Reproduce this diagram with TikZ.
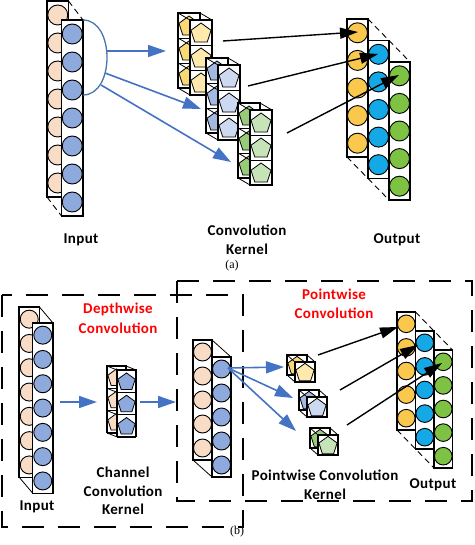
\documentclass[tikz,border=0pt]{standalone}
\usepackage{fontspec}
\setmainfont{Carlito}
\newfontfamily\lblfont[LetterSpace=2.5]{Carlito}
\newfontfamily\capfont{Liberation Serif}
\usetikzlibrary{arrows.meta}
\definecolor{peach}{HTML}{F9DCC6}
\definecolor{inblue}{HTML}{8EA9DB}
\definecolor{yfront}{HTML}{FFE9AD}
\definecolor{yback}{HTML}{F8D978}
\definecolor{bfront}{HTML}{CCD9F1}
\definecolor{bback}{HTML}{A4B9E2}
\definecolor{gfront}{HTML}{C7E3B8}
\definecolor{gback}{HTML}{97CB7A}
\definecolor{oyellow}{HTML}{FAC84C}
\definecolor{oblue}{HTML}{14A9E6}
\definecolor{ogreen}{HTML}{7DC242}
\definecolor{arrowblue}{HTML}{4472C4}
\definecolor{arcblue}{HTML}{4A76A8}
\tikzset{
  colbox/.style={draw=black, line width=1.1pt, fill=white},
  circ/.style={draw=black, line width=0.9pt},
  pentline/.style={draw=black, line width=0.8pt},
  edge/.style={draw=black, line width=0.8pt},
  diag/.style={draw=black, line width=0.9pt, dash pattern=on 6pt off 4pt},
  barrow/.style={draw=arrowblue, line width=1.6pt, -{Triangle[length=18pt,width=12pt]}},
  karrow/.style={draw=black, line width=1.4pt, -{Triangle[length=18pt,width=11pt]}},
  lbl/.style={font=\lblfont\bfseries\fontsize{15}{17}\selectfont, align=center, inner sep=0pt},
  redlbl/.style={lbl, text=red},
  captxt/.style={font=\capfont\fontsize{12}{14}\selectfont, inner sep=0pt},
  boxdash/.style={draw=black, line width=2pt, dash pattern=on 22pt off 14pt},
}
% column of circles: x, y, width, n, cell height, colour, radius
\newcommand\CircCol[7]{%
  \draw[colbox] (#1,#2) rectangle ({#1+#3},{#2+#4*#5});
  \foreach \ii in {1,...,#4}{\draw[circ, fill=#6] ({#1+#3/2},{#2+(\ii-0.5)*#5}) circle[radius=#7];}
}
% pentagon: x, y, R, colour
\newcommand\Pent[4]{%
  \draw[pentline, fill=#4, shift={({#1},{#2+0.1*#3})}] (270:#3) -- (342:#3) -- (54:#3) -- (126:#3) -- (198:#3) -- cycle;
}
% kernel prism: fx, fy, w, cell h, dx, dy, front colour, back colour, n
\newcommand\Kernel[9]{%
  \pgfmathsetmacro\kbx{#1-#5}\pgfmathsetmacro\kby{#2-#6}\pgfmathsetmacro\kpr{0.48*#3}%
  \draw[colbox] (\kbx,\kby) rectangle ({\kbx+#3},{\kby+#9*#4});
  \foreach \ii in {1,...,#9}{\Pent{\kbx+#3/2}{\kby+(\ii-0.5)*#4}{\kpr}{#8}}
  \foreach \ii in {0,...,#9}{%
    \draw[edge] (\kbx,{\kby+\ii*#4}) -- ({\kbx+#3},{\kby+\ii*#4});
    \draw[edge] (\kbx,{\kby+\ii*#4}) -- (#1,{#2+\ii*#4});
    \draw[edge] ({\kbx+#3},{\kby+\ii*#4}) -- ({#1+#3},{#2+\ii*#4});}
  \draw[colbox] (#1,#2) rectangle ({#1+#3},{#2+#9*#4});
  \foreach \ii in {1,...,#9}{\draw[edge] (#1,{#2+\ii*#4}) -- ({#1+#3},{#2+\ii*#4});
    \Pent{#1+#3/2}{#2+(\ii-0.5)*#4}{\kpr}{#7}}
}
\begin{document}
\begin{tikzpicture}[x=1pt,y=-1pt]
\useasboundingbox (0,0) rectangle (474,545);
% ================= (a) =================
% input
\draw[diag] (68.5,1) -- (83,20);
\draw[diag] (47,197) -- (61.5,216);
\CircCol{47}{1}{21.5}{7}{28}{peach}{10}
\CircCol{61.5}{20}{21.5}{7}{28}{inblue}{10}
\draw[arcblue, line width=1.3pt] (83,20) .. controls (115,20) and (115,95) .. (83,95);
\coordinate (aA1) at (107,51);  \coordinate (aB1) at (166,51);
\coordinate (aA2) at (105,73);  \coordinate (aB2) at (201,109);
\coordinate (aA3) at (101,85);  \coordinate (aB3) at (231,162);
\draw[barrow] (aA1) -- (aB1);
\draw[barrow] (aA2) -- (aB2);
\draw[barrow] (aA3) -- (aB3);
% kernels
\Kernel{190}{20}{22}{25}{12}{7}{yfront}{yback}{3}
\Kernel{218}{65}{22}{25}{12}{7}{bfront}{bback}{3}
\Kernel{250}{110}{22}{25}{12}{7}{gfront}{gback}{3}
% output
\CircCol{347}{19}{21}{5}{27.6}{oyellow}{10}
\CircCol{368}{40.5}{21}{5}{27.6}{oblue}{10}
\CircCol{389}{62}{21}{5}{27.6}{ogreen}{10}
\draw[diag] (368,19) -- (410,62);
\draw[diag] (347,157) -- (389,200);
\coordinate (kA1) at (223,41);  \coordinate (kB1) at (358,32);
\coordinate (kA2) at (248,86);  \coordinate (kB2) at (378,54);
\coordinate (kA3) at (287,133); \coordinate (kB3) at (399,75);
\draw[karrow] (kA1) -- (kB1);
\draw[karrow] (kA2) -- (kB2);
\draw[karrow] (kA3) -- (kB3);
\node[lbl] (inA) at (81,240) {Input};
\node[lbl] (convA) at (247,230) {Convolution};
\node[lbl] (kerA) at (247,249) {Kernel};
\node[lbl] (outA) at (397,240) {Output};
\node[captxt] (capA) at (232,266) {(a)};
% ================= (b) =================
\draw[boxdash] (2,295) rectangle (243,527);
\draw[boxdash] (177,281) rectangle (472,501);
% input
\draw[edge] (39.5,307) -- (53,323);
\draw[edge] (19,477) -- (32.5,493);
\CircCol{19}{307}{20.5}{7}{24.3}{peach}{9}
\CircCol{32.5}{323}{20.5}{7}{24.3}{inblue}{9}
\coordinate (cA1) at (60,402); \coordinate (cB1) at (97,402);
\draw[barrow] (cA1) -- (cB1);
% channel kernel
\Kernel{117}{370}{19}{22.3}{10}{4}{inblue}{peach}{3}
\coordinate (cA2) at (140,402); \coordinate (cB2) at (176,402);
\draw[barrow] (cA2) -- (cB2);
% intermediate
\draw[edge] (212,340) -- (231,357);
\draw[edge] (193,460) -- (212,477);
\CircCol{193}{340}{19}{5}{24}{peach}{9}
\CircCol{212}{357}{19}{5}{24}{inblue}{9}
\coordinate (dA) at (228,368);
\coordinate (dB1) at (284,367);
\coordinate (dB2) at (293,398);
\coordinate (dB3) at (296,431);
\draw[barrow] (dA) -- (dB1);
\draw[barrow] (dA) -- (dB2);
\draw[barrow] (dA) -- (dB3);
% pointwise kernels
\Kernel{295}{362}{20}{20}{8}{7}{yfront}{yback}{1}
\Kernel{307}{397}{20}{20}{8}{7}{bfront}{bback}{1}
\Kernel{318}{435}{20}{20}{8}{7}{gfront}{gback}{1}
% output
\CircCol{397}{312}{18.5}{5}{23.6}{oyellow}{8.8}
\CircCol{415.5}{331}{18.5}{5}{23.6}{oblue}{8.8}
\CircCol{434}{350}{18.5}{5}{23.6}{ogreen}{8.8}
\draw[diag] (415.5,312) -- (452.5,350);
\draw[diag] (397,430) -- (434,468);
\coordinate (eA1) at (318,355); \coordinate (eB1) at (398,327);
\coordinate (eA2) at (340,390); \coordinate (eB2) at (418,345);
\coordinate (eA3) at (347,425); \coordinate (eB3) at (442,363);
\draw[karrow] (eA1) -- (eB1);
\draw[karrow] (eA2) -- (eB2);
\draw[karrow] (eA3) -- (eB3);
\node[redlbl] (dw1) at (118,309) {Depthwise};
\node[redlbl] (dw2) at (118,328) {Convolution};
\node[redlbl] (pw1) at (334,294) {Pointwise};
\node[redlbl] (pw2) at (334,313) {Convolution};
\node[lbl] (inB) at (37,507) {Input};
\node[lbl] (ch1) at (123,472) {Channel};
\node[lbl] (ch2) at (123,491) {Convolution};
\node[lbl] (ch3) at (123,509) {Kernel};
\node[lbl] (pk1) at (325,475) {Pointwise Convolution};
\node[lbl] (pk2) at (325,494) {Kernel};
\node[lbl] (outB) at (433,485) {Output};
\node[captxt] (capB) at (237,532) {(b)};
\end{tikzpicture}
\end{document}
